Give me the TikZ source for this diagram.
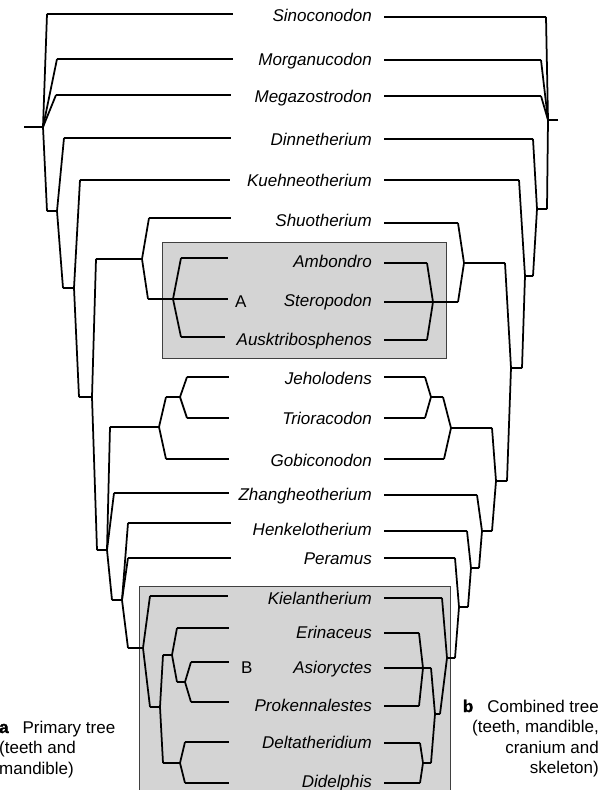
\documentclass[tikz,border=0pt]{standalone}
\usepackage{fontspec}
\setmainfont{Liberation Sans}
\newfontfamily\heavyfont[FakeBold=1.5]{Liberation Sans Bold}
\newcommand\brkids[2]{\foreach \c in {#2} \draw[br] (#1) -- (\c);}
\begin{document}
\begin{tikzpicture}[x=1pt,y=-1pt,
  br/.style={line width=1.75pt, line join=miter},
  taxon/.style={font=\fontsize{17}{20}\selectfont\itshape, anchor=base east, inner sep=0pt},
  captxt/.style={font=\fontsize{17}{21}\selectfont, inner sep=0pt},
  hbox/.style={fill=black!17, draw=black!75, line width=0.8pt}]
\useasboundingbox (0,0) rectangle (600,790);
% shaded boxes
\draw[hbox] (162,242) rectangle (446,358);
\fill[black!17] (139,586) rectangle (450,790);
\draw[black!75, line width=0.8pt] (139,790) -- (139,586) -- (450,586) -- (450,790);
% leaves: name/label/label y/left start x/left y/left end x/right start x/right y
\foreach \n/\t/\ly/\lx/\lsy/\le/\rx/\rsy in {
  Sino/Sinoconodon/15/47/14/233/546/17,
  Morg/Morganucodon/59/57/59/233/541/60,
  Mega/Megazostrodon/96/56/95/231/541/96,
  Dinn/Dinnetherium/139/64/138/231/533/139,
  Kueh/Kuehneotherium/180/80/180/230/519/180,
  Shuo/Shuotherium/220/149/218/231/458/223,
  Ambo/Ambondro/261/181/258/228/427/263,
  Ster/Steropodon/300/148/299/228/458/302,
  Ausk/Ausktribosphenos/339/181/337/225/427/340,
  Jeho/Jeholodens/378/187/377/229/425/377,
  Trio/Trioracodon/418/187/418/229/425/418,
  Gobi/Gobiconodon/460/166/459/229/444/459,
  Zhan/Zhangheotherium/494/114/493/229/477/495,
  Henk/Henkelotherium/529/128/523/231/467/531,
  Pera/Peramus/558/128/558/231/455/558,
  Kiel/Kielantherium/598/150/596/228/442/598,
  Erin/Erinaceus/632/177/628/229/419/633,
  Asio/Asioryctes/667/191/662/229/431/668,
  Prok/Prokennalestes/705/191/702/229/419/706,
  Delt/Deltatheridium/742/185/742/229/420/743,
  Dide/Didelphis/781/185/783/229/420/783}{
  \node[taxon] (t\n) at (372,\ly+6) {\t};
  \coordinate (L\n) at (\lx,\lsy);
  \coordinate (Le\n) at (\le,\lsy);
  \coordinate (R\n) at (\rx,\rsy);
  \coordinate (Re\n) at (384,\rsy);
  \draw[br] (L\n) -- (Le\n);
  \draw[br] (Re\n) -- (R\n);
}
% left tree internal points
\coordinate (Lstub) at (24,127);
\coordinate (Lroot) at (43,127);
\coordinate (LN1s) at (47,211);  \coordinate (LN1) at (57,211);
\coordinate (LN2s) at (63,288);  \coordinate (LN2) at (74,288);
\coordinate (LN3s) at (79,397);  \coordinate (LN3) at (92,397);
\coordinate (LN4s) at (96,259);  \coordinate (LN4) at (142,259);
\coordinate (LA) at (173,299);
\coordinate (LN5s) at (97,550);  \coordinate (LN5) at (107,550);
\coordinate (LTs) at (110,427);  \coordinate (LT) at (159,427);
\coordinate (LJTs) at (166,397); \coordinate (LJT) at (180,397);
\coordinate (LN6s) at (112,600); \coordinate (LN6) at (122,600);
\coordinate (LN7s) at (128,648); \coordinate (LN7) at (143,648);
\coordinate (LN8s) at (150,707); \coordinate (LN8) at (160,707);
\coordinate (LN9s) at (163,655); \coordinate (LN9) at (172,655);
\coordinate (LN11s) at (177,682); \coordinate (LN11) at (185,682);
\coordinate (LN10s) at (163,763); \coordinate (LN10) at (180,763);
\foreach \a/\b in {Lstub/Lroot, LN1s/LN1, LN2s/LN2, LN3s/LN3, LN4s/LN4, LN5s/LN5,
  LTs/LT, LJTs/LJT, LN6s/LN6, LN7s/LN7, LN8s/LN8, LN9s/LN9, LN11s/LN11, LN10s/LN10}
  \draw[br] (\a) -- (\b);
\brkids{Lroot}{LSino,LMorg,LMega,LN1s}
\brkids{LN1}{LDinn,LN2s}
\brkids{LN2}{LKueh,LN3s}
\brkids{LN3}{LN4s,LN5s}
\brkids{LN4}{LShuo,LSter}
\brkids{LA}{LAmbo,LAusk}
\brkids{LN5}{LTs,LZhan,LN6s}
\brkids{LT}{LJTs,LGobi}
\brkids{LJT}{LJeho,LTrio}
\brkids{LN6}{LHenk,LPera,LN7s}
\brkids{LN7}{LKiel,LN8s}
\brkids{LN8}{LN9s,LN10s}
\brkids{LN9}{LErin,LN11s}
\brkids{LN11}{LAsio,LProk}
\brkids{LN10}{LDelt,LDide}
% right tree internal points
\coordinate (Rstub) at (558,120);
\coordinate (Rroot) at (548,120);
\coordinate (RN1s) at (547,209);  \coordinate (RN1) at (537,209);
\coordinate (RN2s) at (533,276);  \coordinate (RN2) at (525,276);
\coordinate (RN3s) at (522,368);  \coordinate (RN3) at (511,368);
\coordinate (RN4s) at (505,263);  \coordinate (RN4) at (464,263);
\coordinate (RA) at (433,302);
\coordinate (RN5s) at (507,481);  \coordinate (RN5) at (496,481);
\coordinate (RTs) at (492,428);   \coordinate (RT) at (451,428);
\coordinate (RJTs) at (443,397);  \coordinate (RJT) at (431,397);
\coordinate (RN6s) at (492,531);  \coordinate (RN6) at (482,531);
\coordinate (RN7s) at (479,568);  \coordinate (RN7) at (471,568);
\coordinate (RN8s) at (468,607);  \coordinate (RN8) at (459,607);
\coordinate (RN9s) at (455,658);  \coordinate (RN9) at (447,658);
\coordinate (RN10s) at (440,714); \coordinate (RN10) at (435,714);
\coordinate (RX) at (423,668);
\coordinate (RYs) at (431,763);   \coordinate (RY) at (423,763);
\foreach \a/\b in {Rstub/Rroot, RN1s/RN1, RN2s/RN2, RN3s/RN3, RN4s/RN4, RN5s/RN5,
  RTs/RT, RJTs/RJT, RN6s/RN6, RN7s/RN7, RN8s/RN8, RN9s/RN9, RN10s/RN10, RYs/RY}
  \draw[br] (\a) -- (\b);
\brkids{Rroot}{RSino,RMorg,RMega,RN1s}
\brkids{RN1}{RDinn,RN2s}
\brkids{RN2}{RKueh,RN3s}
\brkids{RN3}{RN4s,RN5s}
\brkids{RN4}{RShuo,RSter}
\brkids{RA}{RAmbo,RAusk}
\brkids{RN5}{RTs,RN6s}
\brkids{RT}{RJTs,RGobi}
\brkids{RJT}{RJeho,RTrio}
\brkids{RN6}{RZhan,RN7s}
\brkids{RN7}{RHenk,RN8s}
\brkids{RN8}{RPera,RN9s}
\brkids{RN9}{RKiel,RN10s}
\brkids{RN10}{RAsio,RYs}
\brkids{RX}{RErin,RProk}
\brkids{RY}{RDelt,RDide}
% group labels
\node[captxt, anchor=base west] (labA) at (235,307) {A};
\node[captxt, anchor=base west] (labB) at (241,673) {B};
% captions
\node[captxt, anchor=base west] (capa1) at (-1,733) {{\heavyfont a}\hspace{14pt}Primary tree};
\node[captxt, anchor=base west] (capa2) at (-1,753.5) {(teeth and};
\node[captxt, anchor=base west] (capa3) at (-1,774) {mandible)};
\node[captxt, anchor=base east] (capb1) at (599,712) {{\heavyfont b}\hspace{14pt}Combined tree};
\node[captxt, anchor=base east] (capb2) at (599,732.5) {(teeth, mandible,};
\node[captxt, anchor=base east] (capb3) at (599,753) {cranium and};
\node[captxt, anchor=base east] (capb4) at (599,773) {skeleton)};
\end{tikzpicture}
\end{document}
